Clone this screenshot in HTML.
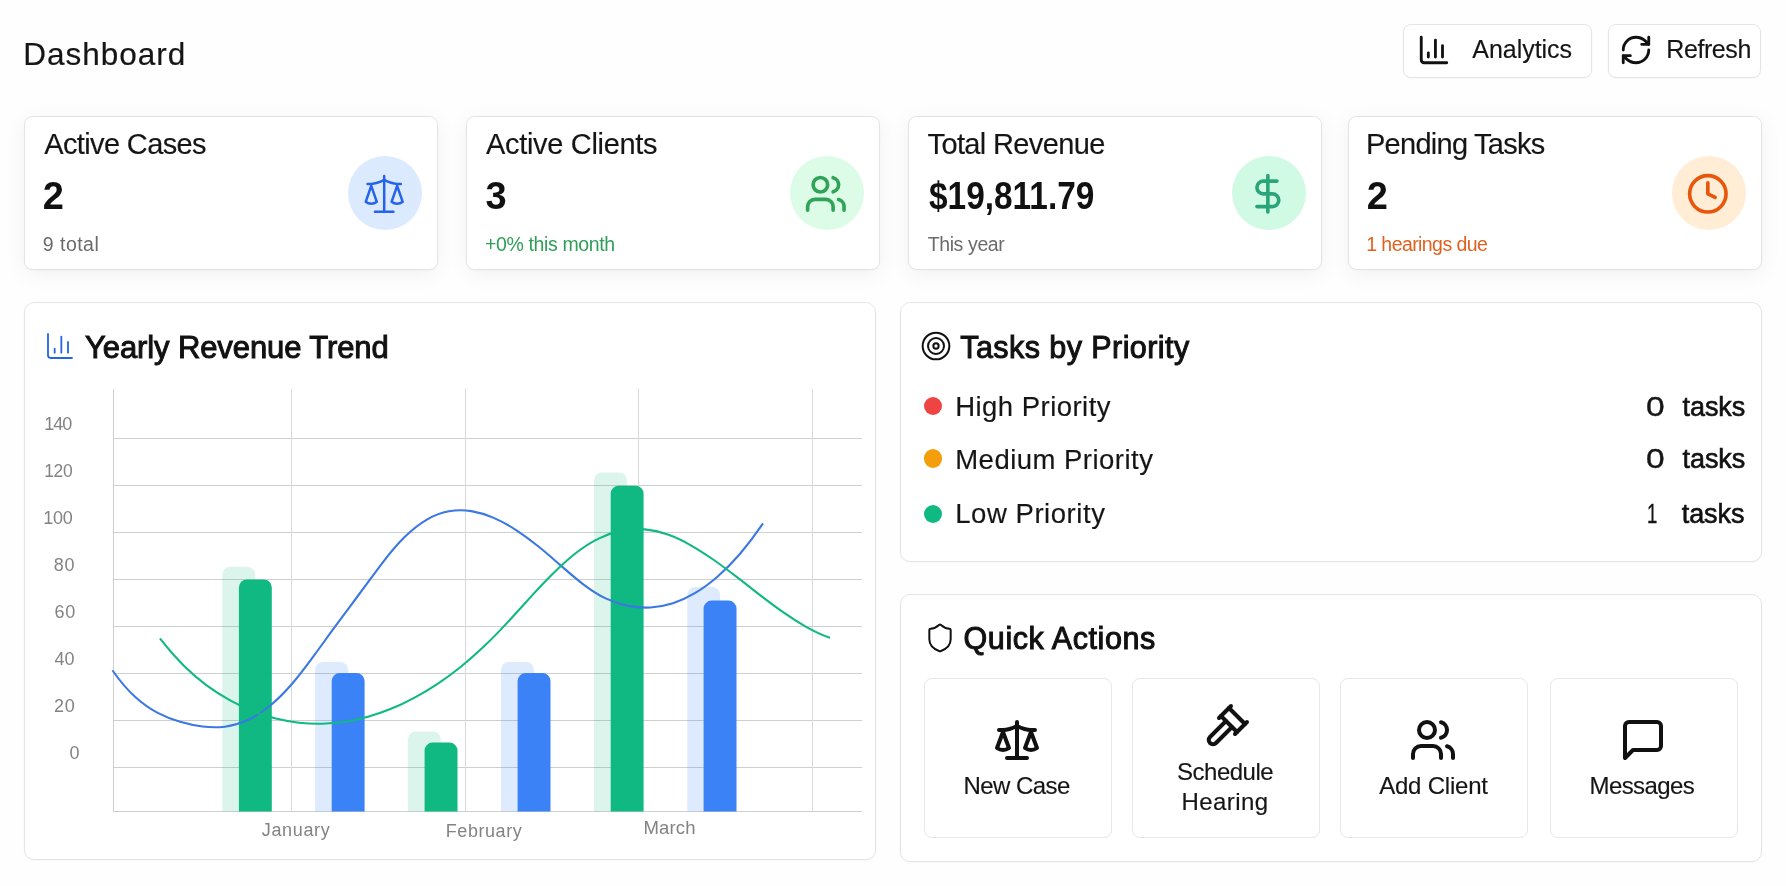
<!DOCTYPE html>
<html lang="en"><head><meta charset="utf-8"><title>Dashboard</title>
<style>
*{box-sizing:border-box;margin:0;padding:0}
html,body{width:1786px;height:886px;overflow:hidden;background:#fefefe;font-family:"Liberation Sans",sans-serif}
#root{position:relative;width:1786px;height:886px;overflow:hidden;will-change:transform}
.t{position:absolute;white-space:nowrap;font-family:"Liberation Sans",sans-serif}
.ic{position:absolute;overflow:visible}
.chart{position:absolute;pointer-events:none}
.btn{position:absolute;background:#fff;border:1px solid #e4e4e4;border-radius:8px;box-shadow:0 1px 2px rgba(0,0,0,.03)}
.stat{position:absolute;background:#fff;border:1px solid #e3e3e3;border-radius:8.5px;box-shadow:0 4px 22px rgba(0,0,0,.055),0 1px 3px rgba(0,0,0,.03)}
.card{position:absolute;background:#fff;border:1px solid #e4e4e4;border-radius:10px;box-shadow:0 1px 2px rgba(0,0,0,.03)}
.act{position:absolute;background:#fff;border:1px solid #e7e7e7;border-radius:8px}
.circ{position:absolute;border-radius:50%}
</style></head><body><div id="root">
<header>
<div class="t" id="t_dash" style="left:23.34px;top:39.14px;font-size:31.5px;line-height:31.5px;color:#151515;letter-spacing:0.991px;-webkit-text-stroke:0.2px #151515;">Dashboard</div>
<div class="btn" style="left:1403.00px;top:24.00px;width:189.00px;height:54.00px;"></div>
<svg class="ic" style="left:1417.20px;top:33.00px;width:34px;height:34px" viewBox="0 0 24 24" fill="none" stroke="#111" stroke-width="2" stroke-linecap="round" stroke-linejoin="round"><path d="M3 3v16a2 2 0 0 0 2 2h16"/><path d="M18 17V9"/><path d="M13 17V5"/><path d="M8 17v-3"/></svg>
<div class="t" id="t_ana" style="left:1472.28px;top:36.94px;font-size:25.0px;line-height:25.0px;color:#151515;letter-spacing:-0.026px;-webkit-text-stroke:0.15px #151515;">Analytics</div>
<div class="btn" style="left:1608.00px;top:24.00px;width:153.00px;height:54.00px;"></div>
<svg class="ic" style="left:1618.70px;top:32.80px;width:34px;height:34px" viewBox="0 0 24 24" fill="none" stroke="#111" stroke-width="2" stroke-linecap="round" stroke-linejoin="round"><path d="M3 12a9 9 0 0 1 9-9 9.75 9.75 0 0 1 6.74 2.74L21 8"/><path d="M21 3v5h-5"/><path d="M21 12a9 9 0 0 1-9 9 9.75 9.75 0 0 1-6.74-2.74L3 16"/><path d="M8 16H3v5"/></svg>
<div class="t" id="t_ref" style="left:1666.32px;top:36.94px;font-size:25.0px;line-height:25.0px;color:#151515;letter-spacing:-0.422px;-webkit-text-stroke:0.15px #151515;">Refresh</div>
</header>
<section>
<div class="stat" style="left:24.00px;top:116.00px;width:414.00px;height:154.00px;"></div>
<div class="t" id="c1t" style="left:44.28px;top:130.15px;font-size:29.0px;line-height:29.0px;color:#151515;letter-spacing:-0.634px;-webkit-text-stroke:0.15px #151515;">Active Cases</div><div class="t" id="c1n" style="left:42.71px;top:176.83px;font-size:38.0px;line-height:38.0px;color:#111;font-weight:700;">2</div><div class="t" id="c1s" style="left:42.79px;top:234.69px;font-size:19.5px;line-height:19.5px;color:#6b6b6b;letter-spacing:0.480px;">9 total</div>
<div class="circ" style="left:348.20px;top:155.60px;width:74px;height:74px;background:#dbeafe"></div>
<svg class="ic" style="left:361.60px;top:169.90px;width:44.4px;height:47.76px" viewBox="0 0 24 24" preserveAspectRatio="none" fill="none" stroke="#2563eb" stroke-width="2.5" stroke-linecap="round" stroke-linejoin="round"><g vector-effect="non-scaling-stroke"><path vector-effect="non-scaling-stroke" d="m16 16 3-8 3 8c-.87.65-1.92 1-3 1s-2.13-.35-3-1Z"/><path vector-effect="non-scaling-stroke" d="m2 16 3-8 3 8c-.87.65-1.92 1-3 1s-2.13-.35-3-1Z"/><path vector-effect="non-scaling-stroke" d="M7 21h10"/><path vector-effect="non-scaling-stroke" d="M12 3v18"/><path vector-effect="non-scaling-stroke" d="M3 7h2c2 0 5-1 7-2 2 1 5 2 7 2h2"/></g></svg>
<div class="stat" style="left:466.00px;top:116.00px;width:414.00px;height:154.00px;"></div>
<div class="t" id="c2t" style="left:486.07px;top:130.15px;font-size:29.0px;line-height:29.0px;color:#151515;letter-spacing:-0.324px;-webkit-text-stroke:0.15px #151515;">Active Clients</div><div class="t" id="c2n" style="left:485.41px;top:176.83px;font-size:38.0px;line-height:38.0px;color:#111;font-weight:700;">3</div><div class="t" id="c2s" style="left:485.09px;top:234.69px;font-size:19.5px;line-height:19.5px;color:#2f9e57;letter-spacing:-0.380px;">+0% this month</div>
<div class="circ" style="left:790.20px;top:155.60px;width:74px;height:74px;background:#dcfce7"></div>
<svg class="ic" style="left:804.20px;top:172.15px;width:43.7px;height:43.7px" viewBox="0 0 24 24" fill="none" stroke="#30a356" stroke-width="2" stroke-linecap="round" stroke-linejoin="round"><path d="M16 21v-2a4 4 0 0 0-4-4H6a4 4 0 0 0-4 4v2"/><circle cx="9" cy="7" r="4"/><path d="M22 21v-2a4 4 0 0 0-3-3.87"/><path d="M16 3.13a4 4 0 0 1 0 7.75"/></svg>
<div class="stat" style="left:908.00px;top:116.00px;width:414.00px;height:154.00px;"></div>
<div class="t" id="c3t" style="left:927.62px;top:130.15px;font-size:29.0px;line-height:29.0px;color:#151515;letter-spacing:-0.643px;-webkit-text-stroke:0.15px #151515;">Total Revenue</div><div class="t" id="c3n" style="left:929.00px;top:176.83px;font-size:38.0px;line-height:38.0px;color:#111;transform:scaleX(0.879);transform-origin:0 0;font-weight:700;">$19,811.79</div><div class="t" id="c3s" style="left:927.70px;top:234.69px;font-size:19.5px;line-height:19.5px;color:#6b6b6b;letter-spacing:-0.386px;">This year</div>
<div class="circ" style="left:1232.20px;top:155.60px;width:74px;height:74px;background:#d1fae5"></div>
<svg class="ic" style="left:1246.15px;top:172.10px;width:43.7px;height:43.7px" viewBox="0 0 24 24" fill="none" stroke="#2aa57a" stroke-width="2" stroke-linecap="round" stroke-linejoin="round"><line x1="12" x2="12" y1="2" y2="22"/><path d="M17 5H9.5a3.5 3.5 0 0 0 0 7h5a3.5 3.5 0 0 1 0 7H6"/></svg>
<div class="stat" style="left:1348.00px;top:116.00px;width:414.00px;height:154.00px;"></div>
<div class="t" id="c4t" style="left:1366.01px;top:130.15px;font-size:29.0px;line-height:29.0px;color:#151515;letter-spacing:-0.733px;-webkit-text-stroke:0.15px #151515;">Pending Tasks</div><div class="t" id="c4n" style="left:1366.81px;top:176.83px;font-size:38.0px;line-height:38.0px;color:#111;font-weight:700;">2</div><div class="t" id="c4s" style="left:1366.28px;top:234.69px;font-size:19.5px;line-height:19.5px;color:#e0621f;letter-spacing:-0.577px;">1 hearings due</div>
<div class="circ" style="left:1672.20px;top:155.60px;width:74px;height:74px;background:#ffedd5"></div>
<svg class="ic" style="left:1686.15px;top:172.05px;width:43.7px;height:43.7px" viewBox="0 0 24 24" fill="none" stroke="#e8560d" stroke-width="2" stroke-linecap="round" stroke-linejoin="round"><circle cx="12" cy="12" r="10"/><polyline points="12 6 12 12 16 14"/></svg>
</section>
<section>
<div class="card" style="left:24.00px;top:302.00px;width:852.00px;height:558.00px;"></div>
<svg class="ic" style="left:44.00px;top:329.80px;width:32px;height:32px" viewBox="0 0 24 24" fill="none" stroke="#2563eb" stroke-width="1.35" stroke-linecap="round" stroke-linejoin="round"><path d="M3 3v16a2 2 0 0 0 2 2h16"/><path d="M18 17V9"/><path d="M13 17V5"/><path d="M8 17v-3"/></svg>
<div class="t" id="ch_t" style="left:85.02px;top:331.76px;font-size:31.0px;line-height:31.0px;color:#111;letter-spacing:-0.102px;-webkit-text-stroke:1.0px #111;">Yearly Revenue Trend</div>
<svg class="chart" style="left:0;top:0;width:1786px;height:886px" viewBox="0 0 1786 886" shape-rendering="geometricPrecision">
<line x1="113.5" x2="862" y1="438.5" y2="438.5" stroke="#cfcfcf" stroke-width="1"/>
<line x1="113.5" x2="862" y1="485.5" y2="485.5" stroke="#cfcfcf" stroke-width="1"/>
<line x1="113.5" x2="862" y1="532.5" y2="532.5" stroke="#cfcfcf" stroke-width="1"/>
<line x1="113.5" x2="862" y1="579.5" y2="579.5" stroke="#cfcfcf" stroke-width="1"/>
<line x1="113.5" x2="862" y1="626.5" y2="626.5" stroke="#cfcfcf" stroke-width="1"/>
<line x1="113.5" x2="862" y1="673.5" y2="673.5" stroke="#cfcfcf" stroke-width="1"/>
<line x1="113.5" x2="862" y1="720.5" y2="720.5" stroke="#cfcfcf" stroke-width="1"/>
<line x1="113.5" x2="862" y1="767.5" y2="767.5" stroke="#cfcfcf" stroke-width="1"/>
<line x1="291.5" x2="291.5" y1="389" y2="811.5" stroke="#d9d9d9" stroke-width="1"/>
<line x1="465.5" x2="465.5" y1="389" y2="811.5" stroke="#d9d9d9" stroke-width="1"/>
<line x1="638.5" x2="638.5" y1="389" y2="811.5" stroke="#d9d9d9" stroke-width="1"/>
<line x1="812.5" x2="812.5" y1="389" y2="811.5" stroke="#d9d9d9" stroke-width="1"/>
<line x1="113.5" x2="113.5" y1="389" y2="811.5" stroke="#cfcfcf" stroke-width="1"/>
<line x1="113.5" x2="862" y1="811.5" y2="811.5" stroke="#cfcfcf" stroke-width="1"/>
<path d="M222.3 811.5V574.8a8 8 0 0 1 8-8h16.9a8 8 0 0 1 8 8V811.5z" fill="rgba(16,185,129,0.15)" opacity="1"/>
<path d="M315.1 811.5V670.0a8 8 0 0 1 8-8h16.9a8 8 0 0 1 8 8V811.5z" fill="rgba(59,130,246,0.17)" opacity="1"/>
<path d="M407.9 811.5V739.4a8 8 0 0 1 8-8h16.9a8 8 0 0 1 8 8V811.5z" fill="rgba(16,185,129,0.15)" opacity="1"/>
<path d="M501.0 811.5V670.0a8 8 0 0 1 8-8h16.9a8 8 0 0 1 8 8V811.5z" fill="rgba(59,130,246,0.17)" opacity="1"/>
<path d="M594.0 811.5V480.5a8 8 0 0 1 8-8h16.9a8 8 0 0 1 8 8V811.5z" fill="rgba(16,185,129,0.15)" opacity="1"/>
<path d="M687.3 811.5V595.1a8 8 0 0 1 8-8h16.9a8 8 0 0 1 8 8V811.5z" fill="rgba(59,130,246,0.17)" opacity="1"/>
<path d="M238.9 811.5V587.4a8 8 0 0 1 8-8h16.9a8 8 0 0 1 8 8V811.5z" fill="#10b981" opacity="1"/>
<path d="M331.7 811.5V681.1a8 8 0 0 1 8-8h16.9a8 8 0 0 1 8 8V811.5z" fill="#3b82f6" opacity="1"/>
<path d="M424.6 811.5V750.6a8 8 0 0 1 8-8h16.9a8 8 0 0 1 8 8V811.5z" fill="#10b981" opacity="1"/>
<path d="M517.6 811.5V681.1a8 8 0 0 1 8-8h16.9a8 8 0 0 1 8 8V811.5z" fill="#3b82f6" opacity="1"/>
<path d="M610.7 811.5V493.7a8 8 0 0 1 8-8h16.9a8 8 0 0 1 8 8V811.5z" fill="#10b981" opacity="1"/>
<path d="M703.6 811.5V608.6a8 8 0 0 1 8-8h16.9a8 8 0 0 1 8 8V811.5z" fill="#3b82f6" opacity="1"/>
<path d="M112.9 671.0C120.4 681.7 127.8 690.2 135.3 697.0C142.8 703.8 150.2 708.9 157.7 712.9C165.2 716.8 172.6 719.6 180.1 721.8C187.6 724.0 195.0 725.6 202.5 726.5C210.0 727.5 217.4 727.6 224.9 726.7C232.4 725.7 239.8 723.7 247.3 720.3C254.8 716.9 262.2 712.1 269.7 706.0C277.2 699.9 284.6 692.5 292.1 683.8C299.6 675.1 307.0 665.2 314.5 654.9C322.0 644.7 329.4 634.3 336.9 624.2C344.4 614.1 351.8 604.1 359.3 594.0C366.8 584.0 374.2 573.7 381.7 563.8C389.2 554.0 396.6 545.0 404.1 537.6C411.6 530.1 419.0 524.1 426.5 519.8C434.0 515.4 441.4 512.6 448.9 511.3C456.4 509.9 463.8 509.9 471.3 511.1C478.8 512.3 486.2 514.6 493.7 517.9C501.2 521.1 508.6 525.3 516.1 530.1C523.6 535.0 531.0 540.5 538.5 546.5C546.0 552.5 553.4 559.1 560.9 565.6C568.4 572.1 575.8 578.6 583.3 584.3C590.8 590.0 598.2 594.8 605.7 598.4C613.2 601.9 620.6 604.4 628.1 605.9C635.6 607.4 643.0 607.9 650.5 607.5C658.0 607.0 665.4 605.6 672.9 603.2C680.4 600.8 687.8 597.4 695.3 592.9C702.8 588.5 710.2 583.0 717.7 576.5C725.2 570.0 732.6 562.5 740.1 553.8C747.6 545.0 755.0 535.2 762.5 524.2" fill="none" stroke="#3b78e2" stroke-width="2.1" stroke-linecap="round"/><path d="M160.5 639.2C168.2 649.2 175.9 657.9 183.6 665.5C191.2 673.1 198.9 679.6 206.6 685.3C214.3 690.9 222.0 695.8 229.7 700.1C237.4 704.4 245.0 708.0 252.7 711.1C260.4 714.2 268.1 716.7 275.8 718.6C283.5 720.5 291.2 721.9 298.9 722.7C306.5 723.5 314.2 723.9 321.9 723.7C329.6 723.5 337.3 722.8 345.0 721.7C352.7 720.5 360.3 718.9 368.0 716.7C375.7 714.6 383.4 711.9 391.1 708.8C398.8 705.7 406.5 702.1 414.1 697.9C421.8 693.8 429.5 689.2 437.2 684.1C444.9 679.0 452.6 673.3 460.3 667.2C467.9 661.0 475.6 654.3 483.3 647.0C491.0 639.8 498.7 631.9 506.4 623.6C514.1 615.4 521.8 606.8 529.4 598.4C537.1 590.0 544.8 581.8 552.5 574.1C560.2 566.5 567.9 559.4 575.6 553.3C583.2 547.3 590.9 542.3 598.6 538.6C606.3 534.8 614.0 532.2 621.7 530.6C629.4 529.1 637.0 528.7 644.7 529.4C652.4 530.1 660.1 531.8 667.8 534.6C675.5 537.3 683.2 541.0 690.8 545.3C698.5 549.7 706.2 554.7 713.9 560.0C721.6 565.4 729.3 571.2 737.0 577.2C744.7 583.1 752.3 589.1 760.0 595.1C767.7 601.0 775.4 606.8 783.1 612.2C790.8 617.6 798.5 622.6 806.1 626.9C813.8 631.2 821.5 634.9 829.2 637.6" fill="none" stroke="#10b981" stroke-width="2.1" stroke-linecap="round"/>
</svg>
<div class="t" id="y140" style="left:44.17px;top:415.26px;font-size:18.0px;line-height:18.0px;color:#838383;letter-spacing:-0.979px;">140</div><div class="t" id="y120" style="left:44.21px;top:462.59px;font-size:17.5px;line-height:17.5px;color:#838383;letter-spacing:-0.384px;">120</div><div class="t" id="y100" style="left:43.27px;top:509.16px;font-size:18.0px;line-height:18.0px;color:#838383;letter-spacing:-0.329px;">100</div><div class="t" id="y80" style="left:53.84px;top:555.86px;font-size:18.0px;line-height:18.0px;color:#838383;letter-spacing:0.589px;">80</div><div class="t" id="y60" style="left:54.46px;top:602.96px;font-size:18.0px;line-height:18.0px;color:#838383;letter-spacing:0.671px;">60</div><div class="t" id="y40" style="left:54.52px;top:649.86px;font-size:18.0px;line-height:18.0px;color:#838383;letter-spacing:-0.092px;">40</div><div class="t" id="y20" style="left:53.96px;top:697.06px;font-size:18.0px;line-height:18.0px;color:#838383;letter-spacing:0.671px;">20</div><div class="t" id="y0" style="left:69.44px;top:743.66px;font-size:18.0px;line-height:18.0px;color:#838383;transform:scaleX(1.000);transform-origin:0 0;">0</div><div class="t" id="xjan" style="left:261.72px;top:820.76px;font-size:18.0px;line-height:18.0px;color:#838383;letter-spacing:0.657px;">January</div><div class="t" id="xfeb" style="left:445.79px;top:821.76px;font-size:18.0px;line-height:18.0px;color:#838383;letter-spacing:0.554px;">February</div><div class="t" id="xmar" style="left:643.55px;top:818.64px;font-size:18.5px;line-height:18.5px;color:#838383;letter-spacing:0.121px;">March</div>
</section>
<section>
<div class="card" style="left:900.00px;top:302.00px;width:862.00px;height:260.00px;"></div>
<svg class="ic" style="left:919.96px;top:329.90px;width:32px;height:32px" viewBox="0 0 24 24" fill="none" stroke="#111" stroke-width="1.5" stroke-linecap="round" stroke-linejoin="round"><circle cx="12" cy="12" r="10"/><circle cx="12" cy="12" r="6"/><circle cx="12" cy="12" r="2"/></svg>
<div class="t" id="tk_t" style="left:960.22px;top:332.38px;font-size:30.5px;line-height:30.5px;color:#111;letter-spacing:0.435px;-webkit-text-stroke:1.0px #111;">Tasks by Priority</div>
<div class="circ" style="left:923.80px;top:397.10px;width:18.4px;height:18.4px;background:#ef4444"></div><div class="t" id="tk1" style="left:955.23px;top:393.42px;font-size:27.5px;line-height:27.5px;color:#151515;letter-spacing:0.462px;-webkit-text-stroke:0.15px #151515;">High Priority</div><div class="t" id="tk1n" style="left:1645.73px;top:393.42px;font-size:27.5px;line-height:27.5px;color:#151515;transform:scaleX(1.218);transform-origin:0 0;-webkit-text-stroke:0.35px #151515;">0</div><div class="t" id="tk1k" style="left:1682.60px;top:393.84px;font-size:27.0px;line-height:27.0px;color:#111;letter-spacing:-0.118px;-webkit-text-stroke:0.6px #111;">tasks</div>
<div class="circ" style="left:923.80px;top:449.20px;width:18.4px;height:18.4px;background:#f59e0b"></div><div class="t" id="tk2" style="left:955.23px;top:445.52px;font-size:27.5px;line-height:27.5px;color:#151515;letter-spacing:0.478px;-webkit-text-stroke:0.15px #151515;">Medium Priority</div><div class="t" id="tk2n" style="left:1645.73px;top:445.12px;font-size:27.5px;line-height:27.5px;color:#151515;transform:scaleX(1.218);transform-origin:0 0;-webkit-text-stroke:0.35px #151515;">0</div><div class="t" id="tk2k" style="left:1682.60px;top:445.54px;font-size:27.0px;line-height:27.0px;color:#111;letter-spacing:-0.118px;-webkit-text-stroke:0.6px #111;">tasks</div>
<div class="circ" style="left:923.80px;top:504.80px;width:18.4px;height:18.4px;background:#10b981"></div><div class="t" id="tk3" style="left:955.23px;top:499.92px;font-size:27.5px;line-height:27.5px;color:#151515;letter-spacing:0.550px;-webkit-text-stroke:0.15px #151515;">Low Priority</div><div class="t" id="tk3n" style="left:1647.21px;top:499.92px;font-size:27.5px;line-height:27.5px;color:#151515;transform:scaleX(0.678);transform-origin:0 0;-webkit-text-stroke:0.35px #151515;">1</div><div class="t" id="tk3k" style="left:1681.70px;top:501.34px;font-size:27.0px;line-height:27.0px;color:#111;letter-spacing:-0.043px;-webkit-text-stroke:0.6px #111;">tasks</div>
</section>
<section>
<div class="card" style="left:900.00px;top:594.00px;width:862.00px;height:268.00px;"></div>
<svg class="ic" style="left:924.03px;top:621.80px;width:32px;height:32px" viewBox="0 0 24 24" fill="none" stroke="#111" stroke-width="1.5" stroke-linecap="round" stroke-linejoin="round"><path d="M20 13c0 5-3.5 7.5-7.660 8.950a1 1 0 0 1-.670-.010C7.500 20.500 4 18 4 13V6a1 1 0 0 1 1-1c2 0 4.500-1.200 6.240-2.720a1.170 1.170 0 0 1 1.520 0C14.510 3.810 17 5 19 5a1 1 0 0 1 1 1z"/></svg>
<div class="t" id="qa_t" style="left:963.57px;top:622.58px;font-size:30.5px;line-height:30.5px;color:#111;letter-spacing:0.577px;-webkit-text-stroke:1.0px #111;">Quick Actions</div>
<div class="act" style="left:924.00px;top:678.00px;width:188.00px;height:160.00px;"></div>
<svg class="ic" style="left:993.00px;top:716.00px;width:48px;height:48px" viewBox="0 0 24 24" fill="none" stroke="#111" stroke-width="2" stroke-linecap="round" stroke-linejoin="round"><path d="m16 16 3-8 3 8c-.87.65-1.92 1-3 1s-2.13-.35-3-1Z"/><path d="m2 16 3-8 3 8c-.87.65-1.92 1-3 1s-2.13-.35-3-1Z"/><path d="M7 21h10"/><path d="M12 3v18"/><path d="M3 7h2c2 0 5-1 7-2 2 1 5 2 7 2h2"/></svg>
<div class="t" id="qa1" style="left:963.40px;top:773.68px;font-size:24.0px;line-height:24.0px;color:#151515;letter-spacing:-0.530px;-webkit-text-stroke:0.15px #151515;">New Case</div>
<div class="act" style="left:1132.00px;top:678.00px;width:188.00px;height:160.00px;"></div>
<svg class="ic" style="left:1202.90px;top:701.60px;width:48px;height:48px" viewBox="0 0 24 24" fill="none" stroke="#111" stroke-width="2" stroke-linecap="round" stroke-linejoin="round"><path d="m14.5 12.5-8 8a2.119 2.119 0 1 1-3-3l8-8"/><path d="m16 16 6-6"/><path d="m8 8 6-6"/><path d="m9 7 8 8"/><path d="m21 11-8-8"/></svg>
<div class="t" id="qa2a" style="left:1177.12px;top:760.48px;font-size:24.0px;line-height:24.0px;color:#151515;letter-spacing:-0.515px;-webkit-text-stroke:0.15px #151515;">Schedule</div><div class="t" id="qa2b" style="left:1181.50px;top:789.98px;font-size:24.0px;line-height:24.0px;color:#151515;letter-spacing:0.438px;-webkit-text-stroke:0.15px #151515;">Hearing</div>
<div class="act" style="left:1340.00px;top:678.00px;width:188.00px;height:160.00px;"></div>
<svg class="ic" style="left:1409.30px;top:716.00px;width:48px;height:48px" viewBox="0 0 24 24" fill="none" stroke="#111" stroke-width="2" stroke-linecap="round" stroke-linejoin="round"><path d="M16 21v-2a4 4 0 0 0-4-4H6a4 4 0 0 0-4 4v2"/><circle cx="9" cy="7" r="4"/><path d="M22 21v-2a4 4 0 0 0-3-3.87"/><path d="M16 3.13a4 4 0 0 1 0 7.75"/></svg>
<div class="t" id="qa3" style="left:1379.17px;top:773.68px;font-size:24.0px;line-height:24.0px;color:#151515;letter-spacing:-0.218px;-webkit-text-stroke:0.15px #151515;">Add Client</div>
<div class="act" style="left:1550.00px;top:678.00px;width:188.00px;height:160.00px;"></div>
<svg class="ic" style="left:1618.90px;top:716.00px;width:48px;height:48px" viewBox="0 0 24 24" fill="none" stroke="#111" stroke-width="2" stroke-linecap="round" stroke-linejoin="round"><path d="M21 15a2 2 0 0 1-2 2H7l-4 4V5a2 2 0 0 1 2-2h14a2 2 0 0 1 2 2z"/></svg>
<div class="t" id="qa4" style="left:1589.60px;top:773.68px;font-size:24.0px;line-height:24.0px;color:#151515;letter-spacing:-0.615px;-webkit-text-stroke:0.15px #151515;">Messages</div>
</section>
</div></body></html>
